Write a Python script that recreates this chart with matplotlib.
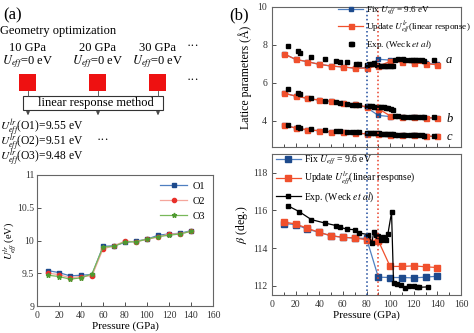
import numpy as np
import matplotlib
matplotlib.use("Agg")
import matplotlib.pyplot as plt
from matplotlib.patches import Rectangle
from matplotlib.ticker import MultipleLocator

plt.rcParams['font.family'] = ['Liberation Serif', 'DejaVu Serif']
plt.rcParams['mathtext.fontset'] = 'stix'

# ---- data -------------------------------------------------------------
P = [10, 20, 30, 40, 50, 60, 70, 80, 90, 100, 110, 120, 130, 140]

# U_eff^lr per oxygen site (panel a)
u_o1 = [9.54, 9.51, 9.46, 9.47, 9.48, 9.91, 9.92, 9.97, 9.99, 10.02, 10.08, 10.10, 10.11, 10.15]
u_o2 = [9.50, 9.48, 9.43, 9.45, 9.46, 9.87, 9.92, 9.99, 9.98, 10.02, 10.05, 10.10, 10.10, 10.14]
u_o3 = [9.47, 9.45, 9.41, 9.43, 9.49, 9.90, 9.91, 9.98, 9.98, 10.02, 10.06, 10.08, 10.10, 10.14]

# lattice parameters, linear response U
lr_a = [7.53, 7.23, 7.11, 6.97, 6.88, 6.83, 6.77, 6.77, 6.88, 7.12, 7.09, 7.04, 7.00, 6.95]
lr_b = [5.45, 5.29, 5.17, 5.08, 5.01, 4.94, 4.88, 4.71, 4.62, 4.25, 4.18, 4.16, 4.14, 4.14]
lr_c = [3.77, 3.60, 3.51, 3.46, 3.40, 3.37, 3.33, 3.30, 3.30, 3.26, 3.25, 3.21, 3.17, 3.16]
# lattice parameters, fixed U = 9.6 eV
fix_a = [7.53, 7.23, 7.11, 6.97, 6.88, 6.83, 6.77, 6.80, 7.24, 7.19, 7.12, 7.06, 7.02, 6.97]
fix_b = [5.45, 5.29, 5.17, 5.08, 5.01, 4.94, 4.88, 4.69, 4.27, 4.21, 4.18, 4.16, 4.14, 4.14]
fix_c = [3.77, 3.60, 3.51, 3.46, 3.40, 3.37, 3.33, 3.30, 3.29, 3.26, 3.25, 3.21, 3.17, 3.16]

# experiment (Weck et al), lattice
exp_p = [13.4, 22.0, 23.3, 33.3, 44.7, 54.4, 57.5, 63.8, 68.1, 71.5, 73.8,
         80.6, 82.5, 84.5, 86.5, 88.5, 90.5, 92.5, 94.5, 96.5, 98.5, 100.5, 102.8,
         104.5, 107, 111, 113, 117, 119, 121, 124, 127, 129, 137]
exp_a = [7.95, 7.65, 7.57, 7.34, 7.23, 7.14, 7.09, 7.07, 8.03, 7.00, 7.00,
         6.92, 6.97, 7.00, 7.02, 6.95, 6.88, 6.88, 6.87, 6.87, 6.88, 6.88, 6.88,
         7.22, 7.24, 7.23, 7.22, 7.21, 7.20, 7.21, 7.19, 7.18, 7.17, 7.18]
exp_b = [5.64, 5.44, 5.38, 5.17, 5.05, 4.97, 4.93, 4.88, 4.84, 4.81, 4.80,
         4.77, 4.76, 4.75, 4.74, 4.73, 4.72, 4.70, 4.69, 4.68, 4.66, 4.63, 4.58,
         4.23, 4.22, 4.21, 4.20, 4.20, 4.19, 4.19, 4.18, 4.18, 4.17, 4.17]
exp_c = [3.74, 3.65, 3.62, 3.55, 3.48, 3.44, 3.42, 3.41, 3.40, 3.39, 3.38,
         3.33, 3.33, 3.33, 3.32, 3.32, 3.32, 3.31, 3.31, 3.31, 3.30, 3.30, 3.29,
         3.25, 3.24, 3.23, 3.23, 3.22, 3.22, 3.22, 3.21, 3.21, 3.20, 3.19]

# monoclinic angle beta
beta_lr = [115.38, 115.28, 115.05, 114.83, 114.65, 114.57, 114.53, 114.44, 114.39,
           113.02, 113.02, 113.05, 113.00, 112.96]
beta_fix = [115.30, 115.25, 115.00, 114.83, 114.65, 114.57, 114.53, 114.51, 112.45,
            112.43, 112.43, 112.41, 112.45, 112.50]
bexp_p = [13.6, 22.9, 33.3, 44.6, 54.5, 57.3, 63.8, 70.6, 73.7, 81.6, 84.5, 86.2,
          88.2, 89.6, 91.9, 93.9, 95.3, 96.1, 98.1, 101.2, 102.9, 106.0, 108.8,
          113.0, 116.4, 120.0, 122.9, 124.3, 131.9]
beta_exp = [116.24, 115.94, 115.51, 115.33, 115.19, 115.10, 115.00, 114.97, 114.80,
            114.71, 114.26, 114.87, 114.71, 114.62, 114.44, 114.57, 114.48, 114.41,
            114.74, 115.90, 112.13, 112.09, 112.02, 111.86, 111.99, 111.99, 111.95,
            111.91, 111.93]

P_fix = 80   # transition, fixed U
P_lr = 90    # transition, linear response U

# diagram
diag_p = ['10 GPa', '20 GPa', '30 GPa']
diag_res = [r'$U_{eff}^{lr}$(O1)=9.55 eV', r'$U_{eff}^{lr}$(O2)=9.51 eV',
            r'$U_{eff}^{lr}$(O3)=9.48 eV']

BLUE = '#1d4a8c'
BLUE_L = '#4f7fc0'
RED = '#f0502d'
GRAY = '#666666'

fig = plt.figure(figsize=(4.74, 3.33), dpi=100)

# ---- (a) diagram, pixel coordinates ------------------------------------
ax0 = fig.add_axes([0, 0, 1, 1])
ax0.set_xlim(0, 474)
ax0.set_ylim(333, 0)
ax0.axis('off')

ax0.text(3, 15, '(a)', fontsize=12, va='center', ha='left')
ax0.text(229, 15, '(b)', fontsize=12, va='center', ha='left')
ax0.text(0, 31, 'Geometry optimization', fontsize=9, va='center', ha='left')
cols = [28, 98, 158]
for xc, lab in zip(cols, diag_p):
    ax0.text(xc, 48, lab, fontsize=9, ha='center', va='center')
    ax0.text(xc, 62, r'$U_{eff}$=0 eV', fontsize=9, ha='center', va='center')
    ax0.add_patch(Rectangle((xc - 8.5, 74), 17, 17, color='#ee1111', lw=0))
    ax0.plot([xc, xc], [91, 96], color='#444444', lw=0.6)
    ax0.annotate('', xy=(xc, 118), xytext=(xc, 110),
                 arrowprops=dict(arrowstyle='-|>', color='#444444', lw=0.6,
                                 mutation_scale=5))
ax0.text(193, 46, '···', fontsize=9, ha='center', va='center')
ax0.text(193, 80, '···', fontsize=9, ha='center', va='center')
ax0.add_patch(Rectangle((23, 96), 140, 14, fill=False, ec='#333333', lw=0.8))
ax0.text(96, 103, 'linear response method', fontsize=9, ha='center', va='center')
for i, s in enumerate(diag_res):
    ax0.text(0, 128 + 14.8 * i, s, fontsize=8.3, ha='left', va='center')
ax0.text(103, 140, '···', fontsize=9, ha='center', va='center')


def style(ax, fs):
    for sp in ax.spines.values():
        sp.set_color(GRAY)
        sp.set_linewidth(0.8)
    ax.tick_params(direction='in', labelsize=fs, colors='#333333', width=0.6,
                   length=3)
    ax.tick_params(which='minor', direction='in', width=0.5, length=2)


# ---- (a) U_eff^lr vs pressure -----------------------------------------
axu = fig.add_axes([37 / 474, 1 - 306 / 333, 176 / 474, 131 / 333])
axu.plot(P, u_o1, '-s', color=BLUE_L, mfc=BLUE, mec=BLUE, ms=3, lw=0.9, label='O1')
axu.plot(P, u_o2, '-o', color='#f5a69c', mfc='#e8302a', mec='#e8302a', ms=3,
         lw=0.9, label='O2')
axu.plot(P, u_o3, '-*', color='#78b85a', mfc='#4f9a30', mec='#4f9a30', ms=3.5,
         lw=0.9, label='O3')
axu.set_xlim(0, 160)
axu.set_ylim(9, 11)
axu.set_xticks(range(0, 161, 20))
axu.set_yticks([9, 9.5, 10, 10.5, 11])
axu.set_yticklabels(['9', '9.5', '10', '10.5', '11'])
axu.set_xlabel('Pressure (GPa)', fontsize=8, labelpad=1)
axu.set_ylabel(r'$U_{eff}^{lr}$ (eV)', fontsize=7.5)
axu.yaxis.set_label_coords(-0.1, 0.5)
style(axu, 7)
axu.tick_params(axis='y', pad=2)
axu.legend(loc='upper left', bbox_to_anchor=(0.70, 0.95), frameon=False,
           fontsize=7.5, handlelength=2.6, handletextpad=0.5, labelspacing=0.55,
           borderpad=0, borderaxespad=0)

# ---- (b) lattice parameters --------------------------------------------
axl = fig.add_axes([272 / 474, 1 - 147 / 333, 189 / 474, 140 / 333])
for i, (fv, lv, ev) in enumerate([(fix_a, lr_a, exp_a), (fix_b, lr_b, exp_b),
                                  (fix_c, lr_c, exp_c)]):
    axl.plot(P, fv, '-s', color=BLUE_L, mfc=BLUE, mec=BLUE, ms=3.2, lw=0.9,
             label='Fix $U_{eff}$ = 9.6 eV' if i == 0 else None)
    axl.plot(P, lv, '-s', color=RED, ms=3.6, lw=0.9,
             label=r'Update $U_{eff}^{lr}$(linear response)' if i == 0 else None)
    axl.plot(exp_p, ev, 's', color='black', ms=2.2, lw=0,
             label=r'Exp. (Weck $et\ al$)' if i == 0 else None)
axl.axvline(P_fix, ymin=-0.05, ymax=1, ls=':', color='#1d4a9c', lw=1.1, clip_on=False)
axl.axvline(P_lr, ymin=-0.05, ymax=1, ls=':', color='#e8402a', lw=1.1, clip_on=False)
axl.set_xlim(0, 160)
axl.set_ylim(2.6, 10)
axl.set_yticks([4, 6, 8, 10])
axl.xaxis.set_major_locator(MultipleLocator(20))
axl.xaxis.set_minor_locator(MultipleLocator(10))
axl.set_xticklabels([])
axl.set_ylabel('Latice parameters (Å)', fontsize=8.5, labelpad=4)
style(axl, 7)
for lab, yv in zip(['a', 'b', 'c'], [lr_a[-1], lr_b[-1], lr_c[-1]]):
    axl.text(150, yv + 0.25 if lab == 'a' else yv - 0.05, lab, fontsize=9,
             style='italic', ha='center', va='center')
axl.legend(loc='upper left', bbox_to_anchor=(0.35, 1.02), frameon=False,
           fontsize=6.6, handlelength=2.7, handletextpad=0.3, labelspacing=0.4,
           borderpad=0, borderaxespad=0)

# ---- (b) beta angle -----------------------------------------------------
axb = fig.add_axes([272 / 474, 1 - 295 / 333, 189 / 474, 141 / 333])
axb.plot(P, beta_fix, '-s', color=BLUE_L, mfc=BLUE, mec=BLUE, ms=4.2, lw=0.9,
         label='Fix $U_{eff}$ = 9.6 eV')
axb.plot(P, beta_lr, '-s', color=RED, ms=4.2, lw=0.9,
         label=r'Update $U_{eff}^{lr}$(linear response)')
axb.plot(bexp_p, beta_exp, '-s', color='black', ms=2.2, lw=0.9,
         label=r'Exp. (Weck $et\ al$)')
axb.axvline(P_fix, ls=':', color='#1d4a9c', lw=1.1)
axb.axvline(P_lr, ls=':', color='#e8402a', lw=1.1)
axb.set_xlim(0, 160)
axb.set_ylim(111.5, 119)
axb.set_yticks([112, 114, 116, 118])
axb.xaxis.set_major_locator(MultipleLocator(20))
axb.xaxis.set_minor_locator(MultipleLocator(10))
axb.set_xlabel('Pressure (GPa)', fontsize=8, labelpad=1)
axb.set_ylabel(r'$\beta$ (deg.)', fontsize=8.5, labelpad=2)
style(axb, 7)
axb.legend(loc='upper left', bbox_to_anchor=(0.02, 1.0), frameon=False,
           fontsize=7, handlelength=2.6, handletextpad=0.3, labelspacing=0.3,
           borderpad=0, borderaxespad=0)

fig.savefig('out.png', dpi=100)
